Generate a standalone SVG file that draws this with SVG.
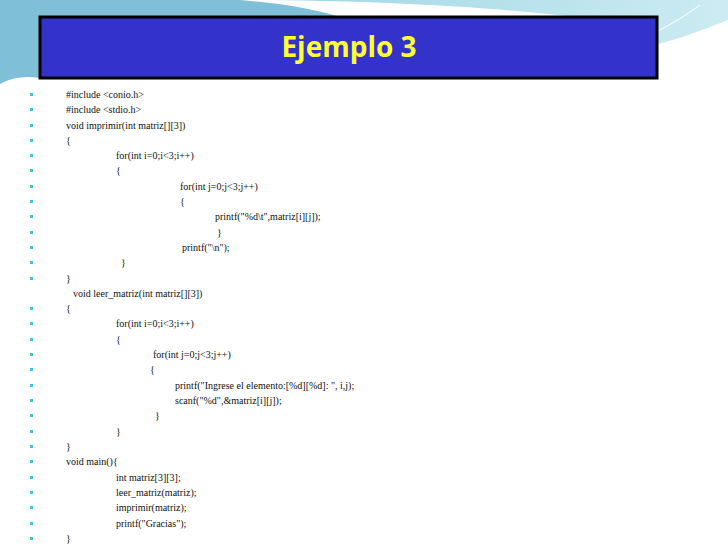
<svg xmlns="http://www.w3.org/2000/svg" width="728" height="546" viewBox="0 0 728 546">
<style>
.c{font-family:"Liberation Serif",serif;font-size:10px;fill:#111}
.b{fill:#3fc3d8}
</style>
<defs>
<linearGradient id="g" x1="0" y1="0" x2="1" y2="0"><stop offset="0" stop-color="#5fb4d3"/><stop offset="0.5" stop-color="#a8dbe8"/><stop offset="1" stop-color="#cdebf2"/></linearGradient>
</defs>
<rect width="728" height="546" fill="#fff"/>
<path d="M0 0H728V20C690 35 670 42 640 48L657 30C560 10 400 0 230 0Z" fill="url(#g)"/>
<path d="M0 0H240C300 5 330 12 380 30H40V78C20 75 8 80 0 84Z" fill="#7fbfd8"/>
<path d="M700 5C680 20 660 30 640 40" stroke="#fff" fill="none"/>
<g id="title">
<rect x="40" y="17" width="617" height="61" fill="#3333cc" stroke="#000" stroke-width="3"/>
<text x="349" y="57" text-anchor="middle" font-family="Open Sans,sans-serif" font-weight="bold" font-size="28" fill="#ffff33">Ejemplo 3</text>
</g>
<g id="code">
<g class="b">
<rect x="30" y="93" width="3" height="3"/><rect x="30" y="108" width="3" height="3"/><rect x="30" y="124" width="3" height="3"/><rect x="30" y="139" width="3" height="3"/><rect x="30" y="154" width="3" height="3"/><rect x="30" y="169" width="3" height="3"/><rect x="30" y="185" width="3" height="3"/><rect x="30" y="200" width="3" height="3"/><rect x="30" y="215" width="3" height="3"/><rect x="30" y="231" width="3" height="3"/><rect x="30" y="246" width="3" height="3"/><rect x="30" y="261" width="3" height="3"/><rect x="30" y="277" width="3" height="3"/>
<rect x="30" y="307" width="3" height="3"/><rect x="30" y="322" width="3" height="3"/><rect x="30" y="338" width="3" height="3"/><rect x="30" y="353" width="3" height="3"/><rect x="30" y="368" width="3" height="3"/><rect x="30" y="384" width="3" height="3"/><rect x="30" y="399" width="3" height="3"/><rect x="30" y="414" width="3" height="3"/><rect x="30" y="430" width="3" height="3"/><rect x="30" y="445" width="3" height="3"/><rect x="30" y="460" width="3" height="3"/><rect x="30" y="476" width="3" height="3"/><rect x="30" y="491" width="3" height="3"/><rect x="30" y="506" width="3" height="3"/><rect x="30" y="522" width="3" height="3"/><rect x="30" y="537" width="3" height="3"/>
</g>
<text class="c" x="66" y="98">#include &lt;conio.h&gt;</text>
<text class="c" x="66" y="113">#include &lt;stdio.h&gt;</text>
<text class="c" x="66" y="129">void imprimir(int matriz[][3])</text>
<text class="c" x="66" y="144">{</text>
<text class="c" x="116" y="159">for(int i=0;i&lt;3;i++)</text>
<text class="c" x="116" y="174">{</text>
<text class="c" x="180" y="190">for(int j=0;j&lt;3;j++)</text>
<text class="c" x="180" y="205">{</text>
<text class="c" x="215" y="220">printf("%d\t",matriz[i][j]);</text>
<text class="c" x="217" y="236">}</text>
<text class="c" x="182" y="251">printf("\n");</text>
<text class="c" x="121" y="266">}</text>
<text class="c" x="66" y="282">}</text>
<text class="c" x="73" y="297">void leer_matriz(int matriz[][3])</text>
<text class="c" x="66" y="312">{</text>
<text class="c" x="116" y="327">for(int i=0;i&lt;3;i++)</text>
<text class="c" x="116" y="343">{</text>
<text class="c" x="153" y="358">for(int j=0;j&lt;3;j++)</text>
<text class="c" x="150" y="373">{</text>
<text class="c" x="175" y="389">printf("Ingrese el elemento:[%d][%d]: ", i,j);</text>
<text class="c" x="175" y="404">scanf("%d",&amp;matriz[i][j]);</text>
<text class="c" x="155" y="419">}</text>
<text class="c" x="116" y="435">}</text>
<text class="c" x="66" y="450">}</text>
<text class="c" x="66" y="465">void main(){</text>
<text class="c" x="116" y="481">int matriz[3][3];</text>
<text class="c" x="116" y="496">leer_matriz(matriz);</text>
<text class="c" x="116" y="511">imprimir(matriz);</text>
<text class="c" x="116" y="527">printf("Gracias");</text>
<text class="c" x="66" y="542">}</text>
</g>
</svg>
